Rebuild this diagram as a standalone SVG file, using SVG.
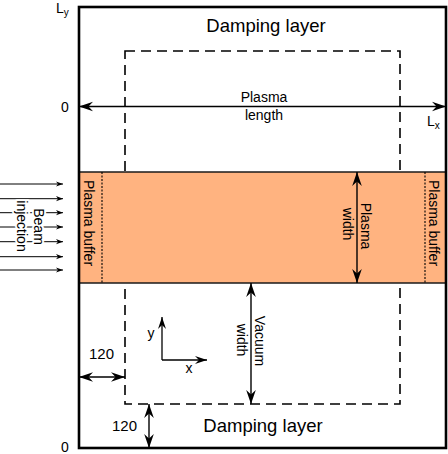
<svg xmlns="http://www.w3.org/2000/svg" width="448" height="454" viewBox="0 0 448 454">
<style>
  text { font-family: "Liberation Sans", Arial, sans-serif; fill: #000; }
  .lbl { font-size: 14px; text-anchor: middle; }
  .big { font-size: 18.5px; text-anchor: middle; }
  .num { font-size: 15px; text-anchor: middle; }
  .halo { paint-order: stroke; stroke: #fff; stroke-width: 4px; stroke-linejoin: round; }
  .arr { stroke: #000; stroke-width: 1.4; fill: none; marker-start: url(#big); marker-end: url(#big); }
  .beam { stroke: #000; stroke-width: 1; fill: none; marker-end: url(#small); }
  .axis { stroke: #000; stroke-width: 1.3; fill: none; marker-end: url(#mid); }
</style>
<defs>
  <marker id="big" markerUnits="userSpaceOnUse" markerWidth="20" markerHeight="14" viewBox="-16 -7 18 14" refX="0" refY="0" orient="auto-start-reverse">
    <path d="M0,0 L-14,-4.8 L-9.5,0 L-14,4.8 Z" fill="#000"/>
  </marker>
  <marker id="mid" markerUnits="userSpaceOnUse" markerWidth="16" markerHeight="12" viewBox="-14 -6 16 12" refX="0" refY="0" orient="auto">
    <path d="M0,0 L-12,-4 L-8,0 L-12,4 Z" fill="#000"/>
  </marker>
  <marker id="small" markerUnits="userSpaceOnUse" markerWidth="10" markerHeight="8" viewBox="-8 -4 10 8" refX="0" refY="0" orient="auto">
    <path d="M0,0 L-7,-2.6 L-5,0 L-7,2.6 Z" fill="#000"/>
  </marker>
</defs>

<g id="damping-boundary">
  <rect x="125" y="51" width="275" height="353" fill="none" stroke="#000" stroke-width="1.6" stroke-dasharray="10 6"/>
</g>

<g id="plasma">
  <rect x="79" y="172" width="367" height="111" fill="#FFB380"/>
  <line x1="79" y1="172" x2="446" y2="172" stroke="#1a1a1a" stroke-width="1.4"/>
  <line x1="79" y1="283" x2="446" y2="283" stroke="#1a1a1a" stroke-width="1.4"/>
</g>

<g id="plasma-buffer-left">
  <line x1="102" y1="172" x2="102" y2="283" stroke="#000" stroke-width="1.1" stroke-dasharray="2 1.5"/>
  <text class="lbl" transform="translate(84,223) rotate(90)">Plasma buffer</text>
</g>
<g id="plasma-buffer-right">
  <line x1="425" y1="172" x2="425" y2="283" stroke="#000" stroke-width="1.1" stroke-dasharray="2 1.5"/>
  <text class="lbl" transform="translate(429,223) rotate(90)">Plasma buffer</text>
</g>

<g id="domain">
  <rect x="79" y="7" width="367" height="441" fill="none" stroke="#000" stroke-width="2.6"/>
  <text class="big" x="266" y="32">Damping layer</text>
  <text class="big" x="263" y="432">Damping layer</text>
  <text class="lbl" x="65" y="112">0</text>
  <text class="lbl" x="65" y="451.5">0</text>
  <text style="font-size:14px" x="56" y="13">L<tspan style="font-size:10px" dy="2.5">y</tspan></text>
  <text style="font-size:14px" x="427" y="126">L<tspan style="font-size:10px" dy="3">x</tspan></text>
</g>

<g id="connectors">
  <line class="arr" x1="79" y1="106.5" x2="446" y2="106.5"/>
  <line class="arr" x1="357" y1="172" x2="357" y2="283"/>
  <line class="arr" x1="251" y1="283" x2="251" y2="404"/>
  <line class="arr" x1="79" y1="377" x2="125" y2="377"/>
  <line class="arr" x1="149" y1="404" x2="149" y2="448"/>
  <line class="axis" x1="162" y1="360" x2="162" y2="317"/>
  <line class="axis" x1="162" y1="360" x2="207" y2="360"/>
  <line class="beam" x1="0" y1="184" x2="63" y2="184"/>
  <line class="beam" x1="0" y1="198.7" x2="63" y2="198.7"/>
  <line class="beam" x1="0" y1="212.7" x2="63" y2="212.7"/>
  <line class="beam" x1="0" y1="227" x2="63" y2="227"/>
  <line class="beam" x1="0" y1="241.7" x2="63" y2="241.7"/>
  <line class="beam" x1="0" y1="256.7" x2="63" y2="256.7"/>
  <line class="beam" x1="0" y1="270" x2="63" y2="270"/>
</g>

<g id="labels">
  <text class="lbl" x="264" y="102">Plasma</text>
  <text class="lbl" x="264" y="120">length</text>
  <text class="lbl" transform="translate(361,226) rotate(90)">Plasma</text>
  <text class="lbl" transform="translate(343,224) rotate(90)">width</text>
  <text class="lbl" transform="translate(255,341) rotate(90)">Vacuum</text>
  <text class="lbl" transform="translate(237,340) rotate(90)">width</text>
  <text class="num" x="101.5" y="359">120</text>
  <text class="num" x="124.5" y="431">120</text>
  <text class="lbl" x="151" y="338">y</text>
  <text class="lbl" x="189" y="373">x</text>
  <text class="lbl halo" transform="translate(34,226.5) rotate(90)">Beam</text>
  <text class="lbl halo" transform="translate(17,226) rotate(90)">injection</text>
</g>
</svg>
